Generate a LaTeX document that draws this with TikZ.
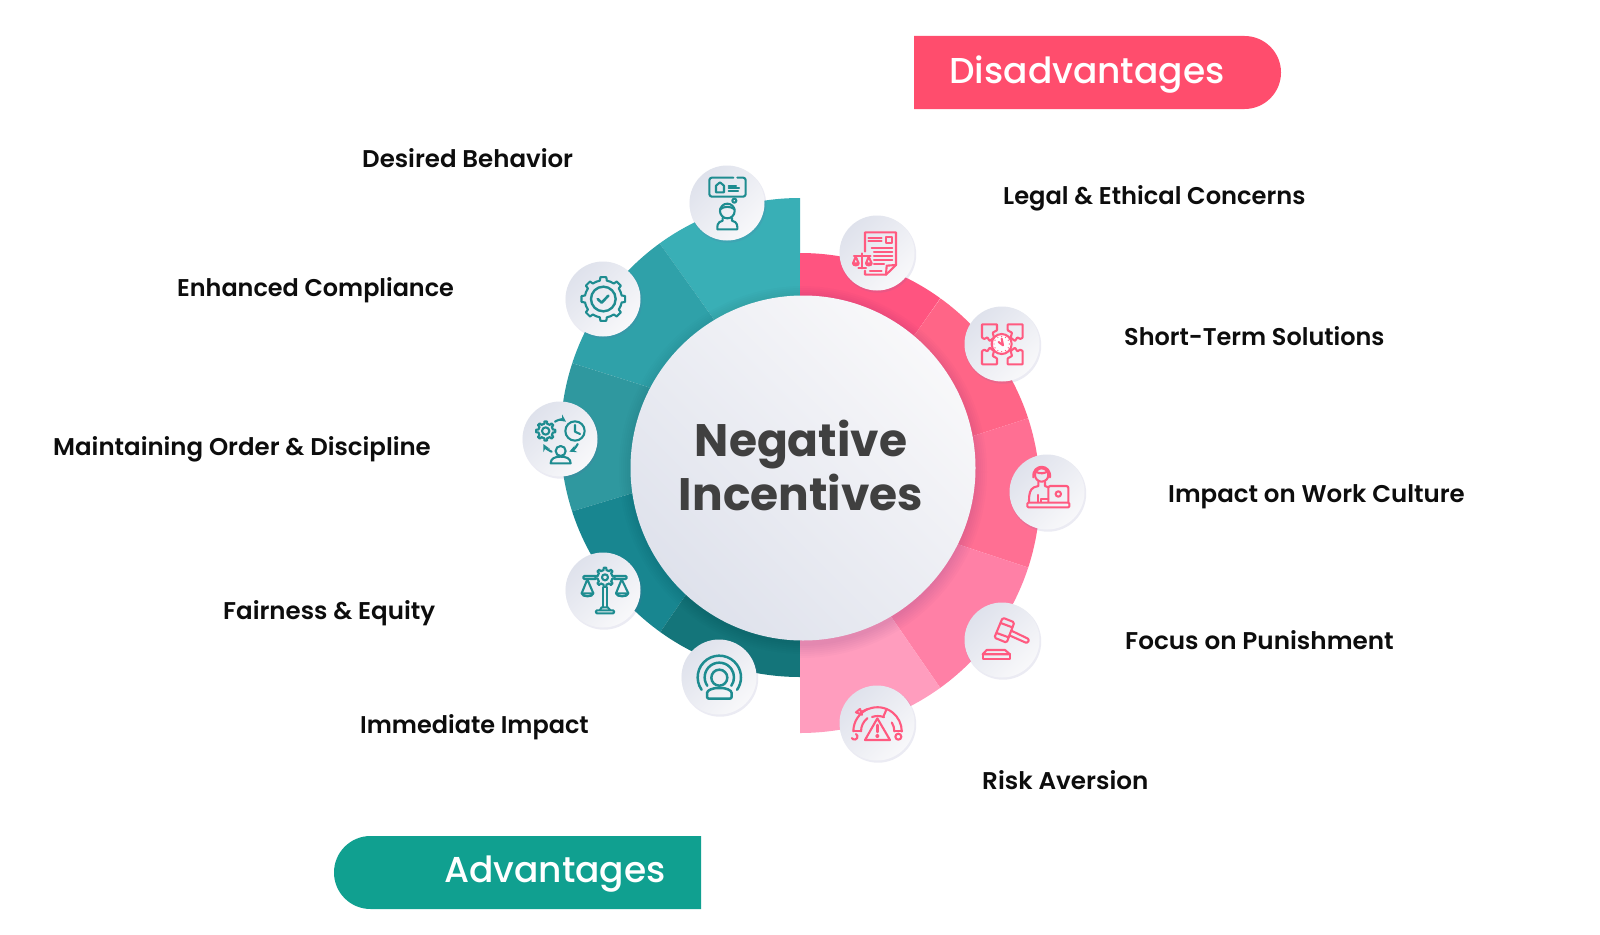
\documentclass[tikz,border=0pt]{standalone}
\usepackage{fontspec}
\usepackage{graphicx}
\setmainfont{Poppins}[UprightFont={* Medium},BoldFont={* Bold}]
\newfontfamily\labelfont{Poppins}[UprightFont={* SemiBold}]
\usetikzlibrary{calc}
\definecolor{tA}{HTML}{39AFB6}\definecolor{tB}{HTML}{2FA1A9}\definecolor{tC}{HTML}{2F989F}\definecolor{tD}{HTML}{188690}\definecolor{tE}{HTML}{14757A}
\definecolor{pA}{HTML}{FF5480}\definecolor{pB}{HTML}{FF6587}\definecolor{pC}{HTML}{FF6F93}\definecolor{pD}{HTML}{FF80A6}\definecolor{pE}{HTML}{FF9DBE}
\definecolor{icT}{HTML}{1E8C90}\definecolor{icP}{HTML}{FF5A80}
\definecolor{pillP}{HTML}{FF4D6D}\definecolor{pillT}{HTML}{10A090}
\definecolor{ttl}{HTML}{404040}\definecolor{lab}{HTML}{0D0D0D}
\definecolor{dkc}{HTML}{DFE2EC}\definecolor{ltc}{HTML}{F8F8FA}
\tikzset{
 ic/.style={line width=2.1pt,line cap=round,line join=round,draw=#1},
 lbl/.style={font=\labelfont\fontsize{24.2}{28}\selectfont,text=lab,inner sep=0pt,anchor=base west},
 pilltxt/.style={font=\fontsize{36}{44}\selectfont,text=white,inner sep=0pt,anchor=base},
 title/.style={font=\bfseries\fontsize{45.5}{56}\selectfont,text=ttl,inner sep=0pt,anchor=base}
}
\newcommand\fitx[2]{\scalebox{#1}[1]{#2}}
\newcommand\bubble[2]{%
 \fill[black!60!blue!60,opacity=.13] (#1+1,#2+1.5) circle (38.2);
 \shade[top color=dkc,bottom color=ltc,shading angle=45] (#1,#2) circle (37.5);
}
% gear: cx cy rin rout n colour
\newcommand\gearic[6]{\begin{scope}[shift={(#1,#2)}]
 \pgfmathsetmacro\st{360/#5}
 \foreach \i in {1,...,#5}{\pgfmathsetmacro\a{\i*\st}
  \draw[ic=#6] ({\a-.5*\st}:#3) -- ({\a-.24*\st}:#3) -- ({\a-.17*\st}:#4) -- ({\a+.17*\st}:#4) -- ({\a+.24*\st}:#3) -- ({\a+.5*\st}:#3);}
 \end{scope}}
\begin{document}
\begin{tikzpicture}[x=1pt,y=-1pt]
\useasboundingbox (0,0) rectangle (1600,934);
\fill[white] (0,0) rectangle (1600,934);
% pills
\fill[pillP] (914,36) -- (1244.5,36) arc[start angle=-90,end angle=90,radius=36.5] -- (914,109) -- cycle;
\fill[pillT] (701,836) -- (370.5,836) arc[start angle=-90,end angle=-270,radius=36.5] -- (701,909) -- cycle;
\node[pilltxt] (dis) at (1087,83) {Disadvantages};
\node[pilltxt] (adv) at (555,882) {Advantages};
% teal half
\begin{scope}
\clip (800,100) rectangle (500,760);
\clip (800,437.5) circle (239.5);
\fill[tA] (800,468)--(800,100)--(600,100)--(640,216)--(660,244)--(713,318)--cycle;
\fill[tB] (800,468)--(713,318)--(640,216)--(500,200)--(540,353)--(648,387)--cycle;
\fill[tC] (800,468)--(648,387)--(540,353)--(500,400)--(540,521)--(633,493)--cycle;
\fill[tD] (800,468)--(633,493)--(540,521)--(540,700)--(648,650)--(685,596)--cycle;
\fill[tE] (800,468)--(685,596)--(648,650)--(640,720)--(800,720)--cycle;
\end{scope}
% pink half
\begin{scope}
\clip (800,200) rectangle (1100,760);
\clip (800,493) circle (240);
\fill[pA] (800,468)--(800,200)--(990,200)--(950,285)--(939,300)--(916,333)--cycle;
\fill[pB] (800,468)--(916,333)--(950,285)--(1090,250)--(1060,408)--(973,436)--cycle;
\fill[pC] (800,468)--(973,436)--(1060,408)--(1090,500)--(1060,578)--(960,545)--cycle;
\fill[pD] (800,468)--(960,545)--(1060,578)--(1040,760)--(950,702)--(892,618)--cycle;
\fill[pE] (800,468)--(892,618)--(950,702)--(950,760)--(800,760)--cycle;
\end{scope}
% inner circle shadow on ring
\begin{scope}
\clip (800,100) rectangle (1100,760);
\clip (800,493) circle (240);
\foreach \r in {174,176,...,186}{\fill[black!60!blue,opacity=.015] (801,472) circle (\r);}
\end{scope}
\begin{scope}
\clip (800,100) rectangle (500,760);
\clip (800,437.5) circle (239.5);
\foreach \r in {174,176,...,184}{\fill[black,opacity=.012] (803,470) circle (\r);}
\end{scope}
\shade[top color=dkc,bottom color=ltc,shading angle=135] (803,468) circle (172.5);
\node[title] (t1) at (801,456) {Negative};
\node[title] (t2) at (801,510) {Incentives};
% bubbles
\bubble{727}{203}\bubble{603}{299}\bubble{560}{439}\bubble{603}{590}\bubble{719}{677}
\bubble{877}{253}\bubble{1002}{344}\bubble{1047}{492}\bubble{1002}{640}\bubble{877}{723}
% labels
\node[lbl] (l1) at (362,167) {\fitx{1.012}{Desired Behavior}};
\node[lbl] (l2) at (177,296) {\fitx{.988}{Enhanced Compliance}};
\node[lbl] (l3) at (53,455) {\fitx{1.01}{Maintaining Order \& Discipline}};
\node[lbl] (l4) at (223,619) {\fitx{1.012}{Fairness \& Equity}};
\node[lbl] (l5) at (360,733) {\fitx{.99}{Immediate Impact}};
\node[lbl] (r1) at (1003,204) {\fitx{.998}{Legal \& Ethical Concerns}};
\node[lbl] (r2) at (1124,345) {\fitx{.99}{Short-Term Solutions}};
\node[lbl] (r3) at (1168,502) {\fitx{1.012}{Impact on Work Culture}};
\node[lbl] (r4) at (1125,649) {\fitx{1.02}{Focus on Punishment}};
\node[lbl] (r5) at (982,789) {\fitx{1.018}{Risk Aversion}};
% ICONS teal (zoom coordinates)
\begin{scope}[shift={(500,150)},x=1pt/3,y=-1pt/3]
 % desired behaviour
 \draw[ic=icT,rounded corners=2.5pt] (712,83)--(737,83)--(737,140)--(628,140)--(628,83)--(700,83);
 \draw[ic=icT] (648,127)--(648,107)--(660,97)--(672,107)--(672,127)--cycle;
 \draw[ic=icT] (686,107)--(708,107) (686,115)--(717,115) (686,123)--(714,123);
 \draw[ic=icT] (703,152) circle[radius=6];
 \draw[ic=icT] (682,183) circle[radius=22];
 \draw[ic=icT] (660,178) .. controls (672,168) and (692,168) .. (704,178);
 \draw[ic=icT] (668,204) -- (668,212) .. controls (650,216) and (652,230) .. (652,238) -- (712,238) (712,238) .. controls (712,230) and (714,216) .. (696,212) -- (696,204);
 % gear + check
 \gearic{310}{447}{56}{66}{8}{icT}
 \draw[ic=icT,line width=2.4pt] (310,447) circle[radius=37];
 \draw[ic=icT,line width=2.6pt] (293,447)--(305,458)--(325,437);
 % order & discipline
 \gearic{137}{843}{22}{29}{8}{icT}
 \draw[ic=icT] (137,843) circle[radius=11];
 \draw[ic=icT] (225,843) circle[radius=29];
 \draw[ic=icT] (225,825)--(225,845)--(240,852);
 \draw[ic=icT,->,>=stealth] (165,815) .. controls (175,808) and (188,808) .. (198,815);
 \draw[ic=icT,->,>=stealth] (155,905) .. controls (143,900) and (135,892) .. (130,882);
 \draw[ic=icT,->,>=stealth] (233,882) .. controls (228,892) and (220,900) .. (208,905);
 \draw[ic=icT] (182,903) circle[radius=15];
 \draw[ic=icT] (152,940) .. controls (152,925) and (165,920) .. (182,920) .. controls (199,920) and (212,925) .. (212,940) -- cycle;
\end{scope}
\begin{scope}[shift={(500,480)},x=1pt/3,y=-1pt/3]
 % scales
 \gearic{315}{292}{22}{29}{8}{icT}
 \draw[ic=icT] (315,292) circle[radius=9];
 \draw[ic=icT,rounded corners=1pt] (285,288)--(250,288)--(250,297)--(287,297);
 \draw[ic=icT,rounded corners=1pt] (345,288)--(380,288)--(380,297)--(343,297);
 \draw[ic=icT] (262,298)--(245,340) (262,298)--(280,340);
 \draw[ic=icT] (245,340)--(280,340) .. controls (280,352) and (245,352) .. (245,340);
 \draw[ic=icT] (365,298)--(348,340) (365,298)--(385,340);
 \draw[ic=icT] (348,340)--(385,340) .. controls (385,352) and (348,352) .. (348,340);
 \draw[ic=icT] (308,322)--(308,382) (320,322)--(320,382);
 \draw[ic=icT] (300,390)--(305,382)--(323,382)--(330,390);
 \draw[ic=icT,rounded corners=1pt] (288,391) rectangle (342,400);
 % immediate impact
 \draw[ic=icT,line width=2.5pt] (658,593) circle[radius=24];
 \draw[ic=icT,line width=2.5pt,rounded corners=2pt] (621,656)--(621,645) .. controls (621,630) and (640,624) .. (658,624) .. controls (676,624) and (695,630) .. (695,645) -- (695,656) -- cycle;
 \draw[ic=icT,line width=2.5pt] (658,592) ++(145:44) arc[start angle=145,end angle=395,radius=44];
 \draw[ic=icT,line width=2.5pt] (658,592) ++(145:65) arc[start angle=145,end angle=395,radius=65];
\end{scope}
% ICONS pink
\begin{scope}[shift={(780,200)},x=1pt/3,y=-1pt/3]
 % legal document
 \draw[ic=icP] (255,155)--(255,97)--(348,97)--(348,195)--(318,224)--(255,224)--(255,212);
 \draw[ic=icP] (318,224)--(320,197)--(348,195);
 \draw[ic=icP] (265,113)--(305,113) (265,123)--(305,123);
 \draw[ic=icP] (318,110) rectangle (335,128);
 \draw[ic=icP] (275,145)--(337,145) (282,155)--(337,155) (282,167)--(337,167) (282,180)--(337,180) (282,193)--(312,193) (270,212)--(305,212);
 \draw[ic=icP] (247,160)--(247,205) (235,205)--(258,205) (222,167)--(272,167);
 \draw[ic=icP] (227,170)--(219,190) (227,170)--(236,190) (219,190)--(236,190) .. controls (236,198) and (219,198) .. (219,190);
 \draw[ic=icP] (266,170)--(258,190) (266,170)--(275,190) (258,190)--(275,190) .. controls (275,198) and (258,198) .. (258,190);
 % short term puzzle
 \foreach \sx/\sy in {1/1,-1/1,1/-1,-1/-1}{
  \begin{scope}[shift={(667,433)},xscale=\sx,yscale=\sy]
   \draw[ic=icP,rounded corners=.6pt] (-61,-60)--(-16,-60)--(-16,-42)--(-29,-35)--(-25,-20)--(-38,-10)--(-45,-21)--(-54,-16)--(-61,-20)--cycle;
  \end{scope}}
 \fill[white!92!dkc] (665,432) circle[radius=29];
 \draw[ic=icP] (665,432) circle[radius=30];
 \draw[ic=icP] (665,416)--(669,436)--(656,426);
 \foreach \a in {0,30,...,330}{\fill[icP] (665,432) ++(\a:23) circle[radius=2];}
 % work culture
 \draw[ic=icP] (785,825) circle[radius=20];
 \draw[ic=icP] (760,832) .. controls (756,790) and (814,790) .. (810,832);
 \draw[ic=icP] (767,815) .. controls (778,822) and (795,822) .. (805,812);
 \draw[ic=icP] (775,845)--(775,858)--(762,862) .. controls (750,868) and (747,880) .. (747,905);
 \draw[ic=icP] (795,845)--(795,858)--(805,862);
 \draw[ic=icP] (773,905)--(773,885);
 \draw[ic=icP,rounded corners=2pt] (805,905)--(805,858)--(865,858)--(865,905);
 \draw[ic=icP] (835,882) circle[radius=8];
 \draw[ic=icP] (783,905)--(783,897)--(805,897);
 \draw[ic=icP,rounded corners=1pt] (742,908) rectangle (868,922);
\end{scope}
\begin{scope}[shift={(780,510)},x=1pt/3,y=-1pt/3]
 % gavel
 \draw[ic=icP,rounded corners=1.5pt] (668,323)--(703,337)--(680,398)--(643,383)--cycle;
 \draw[ic=icP] (662,339)--(697,352) (650,369)--(686,382);
 \draw[ic=icP,rounded corners=2pt] (694,362)--(748,388)--(742,400)--(688,376);
 \draw[ic=icP] (620,420)--(675,420)--(690,433)--(608,433)--cycle;
 \draw[ic=icP] (608,433) rectangle (690,448);
 % gauge
 \draw[ic=icP] (220,664) arc[start angle=180,end angle=248,radius=73];
 \draw[ic=icP] (265,597) arc[start angle=248,end angle=360,radius=73];
 \draw[ic=icP] (220,664)--(243,664) (343,664)--(366,664);
 \draw[ic=icP] (243,664) arc[start angle=180,end angle=232,radius=50];
 \draw[ic=icP] (343,664) arc[start angle=0,end angle=-32,radius=50];
 \draw[ic=icP] (276,621) arc[start angle=250,end angle=292,radius=50];
 \draw[ic=icP] (320,597)--(310,620);
 \draw[ic=icP] (255,690)--(330,690)--(292,625)--cycle;
 \draw[ic=icP,line width=2.6pt] (292,645)--(292,666);
 \fill[icP] (292,678) circle[radius=6];
 \draw[ic=icP] (355,680) circle[radius=9];
 \draw[ic=icP] (228,672) arc[start angle=-60,end angle=150,radius=9];
 \draw[ic=icP] (228,607)--(240,597)--(246,614)--cycle (243,606)--(263,597);
\end{scope}
\end{tikzpicture}
\end{document}
